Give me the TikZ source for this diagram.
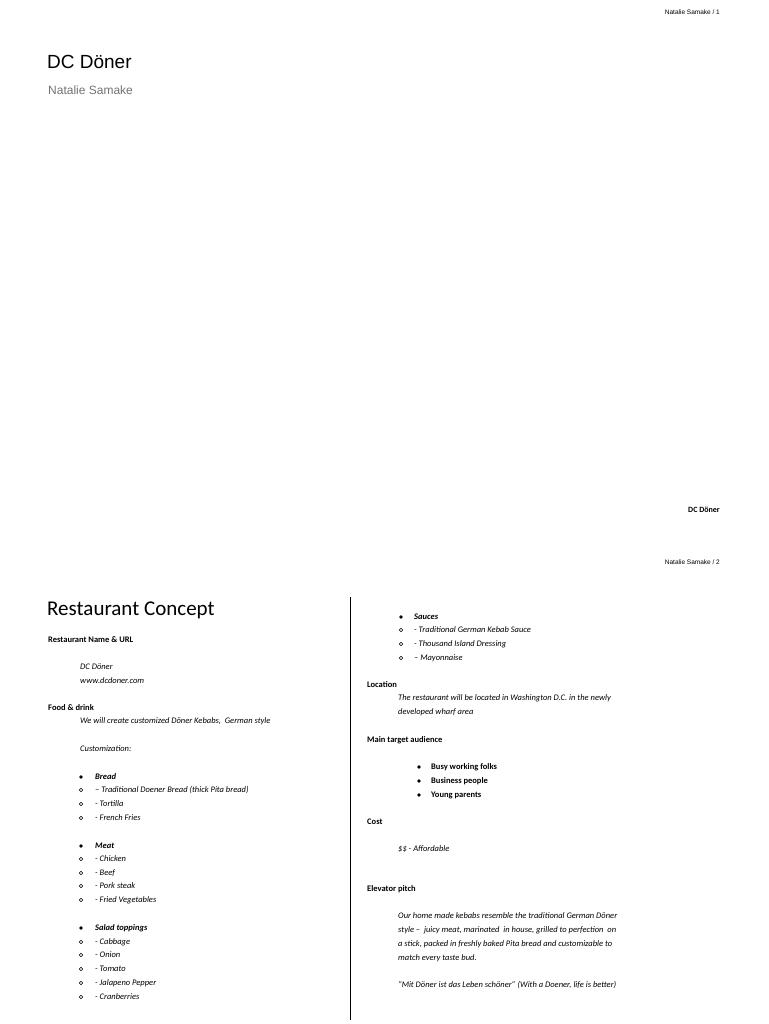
\documentclass[tikz,border=0pt]{standalone}
\usepackage{fontspec}
\setmainfont{Carlito}
\newfontfamily\arial{Liberation Sans}
\newcounter{tn}
\newcommand\tl[3]{\stepcounter{tn}\node[txt,#1] (t\arabic{tn}) at (#2) {#3};}
\begin{document}
\begin{tikzpicture}[x=1pt,y=-1pt,
  txt/.style={anchor=west,inner sep=0pt,font=\fontsize{8.5}{10}\selectfont},
  it/.style={font=\fontsize{8.5}{10}\selectfont\itshape},
  bf/.style={font=\fontsize{8.5}{10}\selectfont\bfseries},
  bi/.style={font=\fontsize{8.5}{10}\selectfont\bfseries\itshape},
  hdr/.style={anchor=east,inner sep=0pt,font=\arial\fontsize{6.5}{8}\selectfont}]
\useasboundingbox (0,0) rectangle (768,1024);
\fill[white] (0,0) rectangle (768,1024);
% page 1
\node[hdr] (h1) at (720,12) {Natalie Samake / 1};
\node[anchor=west,inner sep=0pt,font=\arial\fontsize{19}{22}\selectfont] (title) at (47,62) {DC Döner};
\node[anchor=west,inner sep=0pt,text=black!55,font=\arial\fontsize{12}{14}\selectfont] (auth) at (48,90) {Natalie Samake};
\node[anchor=east,inner sep=0pt,font=\fontsize{8}{10}\selectfont\bfseries] (foot) at (720,510) {DC Döner};
% page 2
\node[hdr] (h2) at (720,562) {Natalie Samake / 2};
\node[anchor=west,inner sep=0pt,font=\fontsize{21}{24}\selectfont] (rc) at (47,610) {Restaurant Concept};
\coordinate (vt) at (350,597); \coordinate (vb) at (350,1020);
\draw[line width=0.8pt] (vt) -- (vb);
% left column
\tl{bf}{48,640}{Restaurant Name \& URL}
\tl{it}{80,667}{DC Döner}
\tl{it}{80,681}{www.dcdoner.com}
\tl{bf}{48,708}{Food \& drink}
\tl{it}{80,721}{We will create customized Döner Kebabs,\ \ German style}
\tl{it}{80,749}{Customization:}
\foreach \y/\t in {777/Bread,846/Meat,928/Salad toppings}{
  \fill (81,\y) circle (1.8);
  \tl{bi}{95,\y}{\t}}
\foreach \y/\t in {790/{– Traditional Doener Bread (thick Pita bread)},804/{- Tortilla},818/{- French Fries},
  859/{- Chicken},873/{- Beef},886/{- Pork steak},900/{- Fried Vegetables},
  942/{- Cabbage},955/{- Onion},969/{- Tomato},983/{- Jalapeno Pepper},997/{- Cranberries}}{
  \draw[line width=0.5pt] (81,\y) circle (1.8);
  \tl{it}{95,\y}{\t}}
% right column
\fill (401,617) circle (1.8);
\tl{bi}{414,617}{Sauces}
\foreach \y/\t in {630/{- Traditional German Kebab Sauce},644/{- Thousand Island Dressing},658/{– Mayonnaise}}{
  \draw[line width=0.5pt] (401,\y) circle (1.8);
  \tl{it}{414,\y}{\t}}
\tl{bf}{367,685}{Location}
\tl{it}{398,698}{The restaurant will be located in Washington D.C. in the newly}
\tl{it}{398,712}{developed wharf area}
\tl{bf}{367,740}{Main target audience}
\foreach \y/\t in {767/{Busy working folks},781/{Business people},795/{Young parents}}{
  \fill (419,\y) circle (1.8);
  \tl{bf}{431,\y}{\t}}
\tl{bf}{367,822}{Cost}
\tl{it}{398,849}{\$\$ - Affordable}
\tl{bf}{367,889}{Elevator pitch}
\tl{it}{398,916}{Our home made kebabs resemble the traditional German Döner}
\tl{it}{398,930}{style –\ \ juicy meat, marinated\ \ in house, grilled to perfection\ \ on}
\tl{it}{398,944}{a stick, packed in freshly baked Pita bread and customizable to}
\tl{it}{398,958}{match every taste bud.}
\tl{it}{398,985}{“Mit Döner ist das Leben schöner” (With a Doener, life is better)}
\end{tikzpicture}
\end{document}
